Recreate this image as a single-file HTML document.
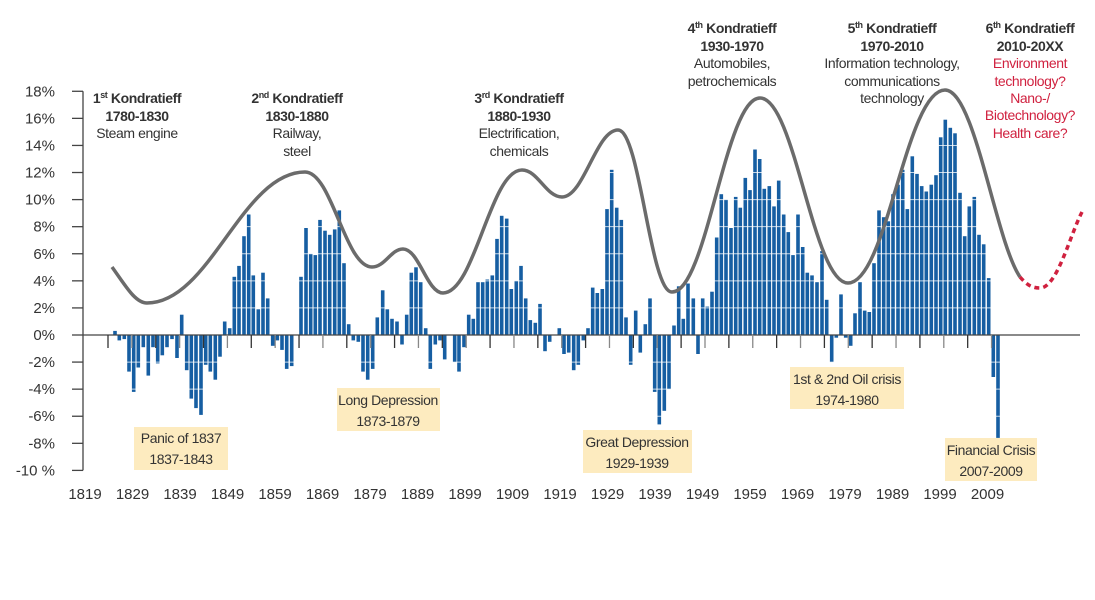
<!DOCTYPE html>
<html><head><meta charset="utf-8"><style>
html,body{margin:0;padding:0;background:#fff;}
svg{display:block;font-family:"Liberation Sans",sans-serif;}
.t{font-size:14px;fill:#333;text-anchor:middle;letter-spacing:-0.4px;}
.b{font-weight:bold;}
.r{fill:#d0213f;}
.yl{font-size:15px;fill:#333;text-anchor:end;}
.xl{font-size:15px;fill:#333;text-anchor:middle;}
</style></head><body>
<svg id="s" width="1095" height="600" viewBox="0 0 1095 600" xmlns="http://www.w3.org/2000/svg">
<g id="bars"></g>
<g id="grid"></g>
<g id="axes"></g>
<path d="M112,267 C125,285 135,303 147,303 C210,303 242,172 305,172 C332,172 345,267 372,267 C385,267 391,249 403,249 C419,249 427,293 443,293 C475,293 490,170 522,170 C538,170 546,197 562,197 C584,197 596,130 618,130 C640,130 650,292 672,292 C707,292 725,98 760,98 C795,98 813,283 848,283 C887,283 906,90 945,90 C975,90 995,240 1020,277" fill="none" stroke="#6b6b6b" stroke-width="3.5"/>
<path d="M1020,277 C1027,285 1032,288 1040,288 C1057,288 1070,235 1082,212" fill="none" stroke="#d0213f" stroke-width="3.5" stroke-dasharray="5,4"/>
<g id="boxes">
<rect x="134" y="427" width="94" height="43" fill="#fdebbf"/>
<text class="t" x="181" y="443">Panic of 1837</text><text class="t" x="181" y="464">1837-1843</text>
<rect x="337" y="388" width="103" height="43" fill="#fdebbf"/>
<text class="t" x="388" y="405">Long Depression</text><text class="t" x="388" y="426">1873-1879</text>
<rect x="583" y="430" width="109" height="43" fill="#fdebbf"/>
<text class="t" x="637" y="447">Great Depression</text><text class="t" x="637" y="468">1929-1939</text>
<rect x="790" y="367" width="114" height="42" fill="#fdebbf"/>
<text class="t" x="847" y="384">1st &amp; 2nd Oil crisis</text><text class="t" x="847" y="405">1974-1980</text>
<rect x="945" y="438" width="92" height="43" fill="#fdebbf"/>
<text class="t" x="991" y="455">Financial Crisis</text><text class="t" x="991" y="476">2007-2009</text>
</g>
<g>
<text class="t b" x="137" y="103">1<tspan font-size="9" dy="-5">st</tspan><tspan dy="5"> Kondratieff</tspan></text>
<text class="t b" x="137" y="121">1780-1830</text>
<text class="t" x="137" y="138">Steam engine</text>
<text class="t b" x="297" y="103">2<tspan font-size="9" dy="-5">nd</tspan><tspan dy="5"> Kondratieff</tspan></text>
<text class="t b" x="297" y="121">1830-1880</text>
<text class="t" x="297" y="138">Railway,</text>
<text class="t" x="297" y="156">steel</text>
<text class="t b" x="519" y="103">3<tspan font-size="9" dy="-5">rd</tspan><tspan dy="5"> Kondratieff</tspan></text>
<text class="t b" x="519" y="121">1880-1930</text>
<text class="t" x="519" y="138">Electrification,</text>
<text class="t" x="519" y="156">chemicals</text>
<text class="t b" x="732" y="33">4<tspan font-size="9" dy="-5">th</tspan><tspan dy="5"> Kondratieff</tspan></text>
<text class="t b" x="732" y="51">1930-1970</text>
<text class="t" x="732" y="68">Automobiles,</text>
<text class="t" x="732" y="86">petrochemicals</text>
<text class="t b" x="892" y="33">5<tspan font-size="9" dy="-5">th</tspan><tspan dy="5"> Kondratieff</tspan></text>
<text class="t b" x="892" y="51">1970-2010</text>
<text class="t" x="892" y="68">Information technology,</text>
<text class="t" x="892" y="86">communications</text>
<text class="t" x="892" y="103">technology</text>
<text class="t b" x="1030" y="33">6<tspan font-size="9" dy="-5">th</tspan><tspan dy="5"> Kondratieff</tspan></text>
<text class="t b" x="1030" y="51">2010-20XX</text>
<text class="t r" x="1030" y="68">Environment</text>
<text class="t r" x="1030" y="86">technology?</text>
<text class="t r" x="1030" y="103">Nano-/</text>
<text class="t r" x="1030" y="120">Biotechnology?</text>
<text class="t r" x="1030" y="138">Health care?</text>
</g>
</svg>
<script>
var NS="http://www.w3.org/2000/svg";
function el(p,t,a){var e=document.createElementNS(NS,t);for(var k in a)e.setAttribute(k,a[k]);p.appendChild(e);return e;}
function Y(v){return 335-v*13.54;}
var z1=[[105,.3],[118,-.4],[133,-.3],[147,-2.7],[161,-4.2],[175,-2.4],[190,-.9],[205,-3],[219,-.9],[233,-2.1],[247,-1.5],[261,-.9],[276,-.3],[291,-1.7],[305,1.5],[320,-2.6],[334,-4.7],[348,-5.4],[363,-5.9],[377,-2.2],[391,-2.7],[406,-3.3],[420,-1.6],[434,1],[449,.5],[463,4.3],[477,5.1],[492,7.3],[506,8.9],[520,4.4],[535,1.9],[549,4.6],[563,2.7],[578,-.8],[592,-.4],[606,-1.1],[620,-2.5],[635,-2.3],[663,4.3],[678,7.9],[692,6],[706,5.9],[720,8.5],[735,7.7],[749,7.4],[764,7.8],[778,9.2],[792,5.3],[806,.8],[820,-.4],[835,-.5],[849,-2.7],[863,-3.3],[878,-2.5],[892,1.3]];
var z2=[[8,3.3],[22,1.9],[36,1.2],[51,1],[66,-.7],[80,1.5],[94,4.6],[108,5],[122,3.9],[137,.5],[151,-2.5],[166,-.7],[180,-.4],[194,-1.8],[224,-2],[237,-2.7],[252,-.9],[266,1.5],[280,1.2],[294,3.9],[308,3.9],[322,4.1],[337,4.4],[351,7.1],[365,8.8],[380,8.6],[394,3.4],[409,4],[423,5.1],[437,2.7],[451,1.1],[466,.9],[480,2.3],[495,-1.2],[509,-.5],[538,.5],[552,-1.4],[566,-1.3],[581,-2.6],[595,-2.2],[610,-.4],[624,.5],[638,3.5],[652,3.1],[667,3.4],[681,9.3],[695,12.2],[710,9.4],[724,8.5],[738,1.3],[752,-2.2],[767,1.8],[781,-1.3],[796,.8],[810,2.7],[824,-4.2],[838,-6.6],[853,-5.6],[867,-4],[882,.7],[896,3.6],[910,1.2],[924,3.8]];
var z3=[[10,2.7],[24,-1.4],[38,2.7],[52,2.1],[66,3.2],[80,7.2],[94,10.4],[108,10],[123,7.9],[137,10.2],[151,9.4],[166,11.6],[180,10.7],[195,13.7],[209,13],[223,10.8],[238,11],[252,9.5],[266,11.4],[281,8.9],[295,7.6],[309,5.9],[324,8.9],[338,6.5],[352,4.6],[366,4.4],[381,3.9],[396,6.2],[410,2.6],[425,-2],[439,-.2],[453,3],[467,-.2],[482,-.8],[495,1.6],[510,3.9],[524,1.8],[538,1.7],[552,5.3],[567,9.2],[581,8.7],[595,8.4],[609,10.4],[624,11.1],[638,12.2],[652,9.3],[667,13.2],[681,11.9],[695,11],[709,10.6],[724,11.1],[738,11.8],[752,14.6],[766,15.9],[781,15.3],[795,14.9],[810,10.5],[824,7.3],[838,9.5],[853,10.2],[867,7.4],[881,6.7],[896,4.2],[910,-3.1],[924,-7.6]];
var bars=document.getElementById("bars");
function add(list,off){list.forEach(function(d){var x=off+d[0]/3,v=d[1],y1=Y(Math.max(v,0)),y2=Y(Math.min(v,0));el(bars,"rect",{x:(x-1.8).toFixed(1),y:y1.toFixed(1),width:3.6,height:Math.max(y2-y1,1).toFixed(1),fill:"#165ea2"});});}
add(z1,80);add(z2,380);add(z3,690);
var g=document.getElementById("grid");
for(var v=-10;v<=18;v+=2){if(v==0)continue;el(g,"line",{x1:90,x2:1080,y1:Y(v),y2:Y(v),stroke:"#fff","stroke-width":1,"stroke-opacity":.75});}
var a=document.getElementById("axes");
el(a,"line",{x1:83,x2:83,y1:Y(18),y2:Y(-10),stroke:"#444","stroke-width":1.3});
for(var v=-10;v<=18;v+=2){el(a,"line",{x1:72,x2:83,y1:Y(v),y2:Y(v),stroke:"#444","stroke-width":1.3});
var t=el(a,"text",{x:55,y:Y(v)+5,"class":"yl"});t.textContent=(v==-10?"-10 %":v+"%");}
el(a,"line",{x1:83,x2:1080,y1:335,y2:335,stroke:"#444","stroke-width":1.3});
for(var i=0;i<38;i++){var x=108+i*23.88;el(a,"line",{x1:x,x2:x,y1:335,y2:348,stroke:i%2?"#888":"#333","stroke-width":1.3});}
for(var i=0;i<20;i++){var t=el(a,"text",{x:85+i*47.5,y:499,"class":"xl"});t.textContent=1819+i*10;}
</script>
</body></html>
